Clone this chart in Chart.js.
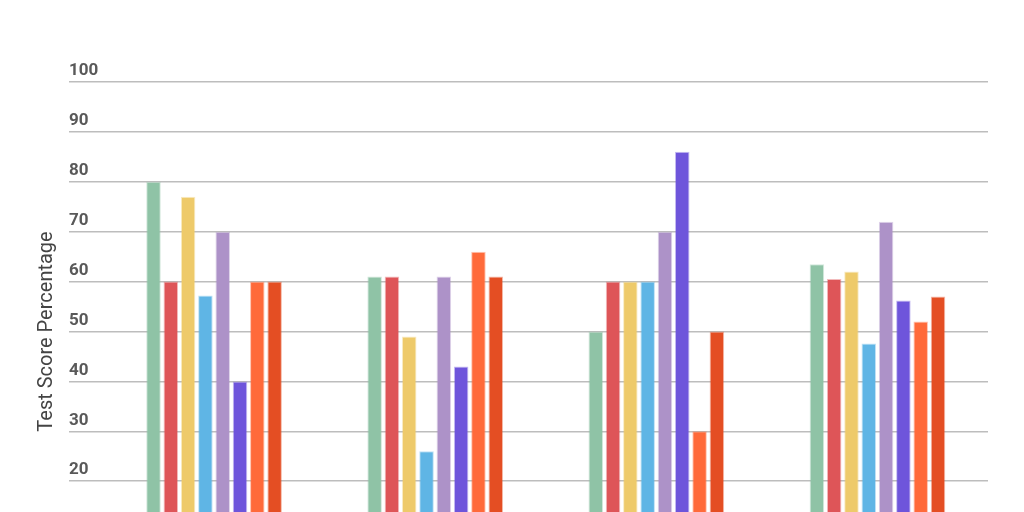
<!DOCTYPE html>
<html>
<head>
<meta charset="utf-8">
<script src="https://cdn.jsdelivr.net/npm/chart.js@4/dist/chart.umd.min.js"></script>
<style>
  html, body { margin: 0; padding: 0; background: #fff; overflow: hidden; }
  #wrap { width: 1024px; height: 623px; }
</style>
</head>
<body>
<div id="wrap"><canvas id="scoreChart"></canvas></div>
<script>
const categories = ['Test 1', 'Test 2', 'Test 3', 'Test 4'];
const yTicks = [0, 10, 20, 30, 40, 50, 60, 70, 80, 90, 100];

const series1 = [80, 61, 50, 63.5];
const series2 = [60, 61, 60, 60.5];
const series3 = [77, 49, 60, 62];
const series4 = [57.2, 26, 60, 47.6];
const series5 = [70, 61, 70, 72];
const series6 = [40, 43, 86, 56.2];
const series7 = [60, 66, 30, 52];
const series8 = [60, 61, 50, 57];

const seriesNames = ['Series 1', 'Series 2', 'Series 3', 'Series 4', 'Series 5', 'Series 6', 'Series 7', 'Series 8'];
const seriesColors = ['#8fc3a6', '#de5558', '#eeca6a', '#5fb5e5', '#ad92c8', '#6e55db', '#ff6a3a', '#e44e23'];
const allSeries = [series1, series2, series3, series4, series5, series6, series7, series8];

new Chart(document.getElementById('scoreChart'), {
    type: 'bar',
    data: {
        labels: categories,
        datasets: allSeries.map((vals, i) => ({
            label: seriesNames[i],
            data: vals,
            backgroundColor: seriesColors[i],
            borderColor: seriesColors[i] + '66',
            borderWidth: 1,
            categoryPercentage: 0.626,
            barPercentage: 0.84
        }))
    },
    options: {
        responsive: true,
        maintainAspectRatio: false,
        animation: false,
        layout: {
            padding: { left: 31, right: 36, top: 82, bottom: 10 }
        },
        plugins: {
            legend: { display: false },
            tooltip: { enabled: false }
        },
        scales: {
            x: {
                grid: { display: false },
                border: { display: false },
                ticks: { color: '#555', font: { family: 'Roboto', size: 15 } }
            },
            y: {
                min: 0,
                max: 100,
                afterBuildTicks: axis => {
                    axis.ticks = yTicks.map(v => ({ value: v }));
                },
                border: { display: false },
                grid: {
                    color: '#bdbdbd',
                    lineWidth: 1.5,
                    drawTicks: true,
                    tickLength: 34.5
                },
                ticks: {
                    // labels sit above each grid line, left aligned where the line starts
                    mirror: true,
                    padding: -34.5,
                    labelOffset: -11,
                    color: '#595959',
                    font: { family: 'Roboto', size: 17, weight: 'bold' }
                },
                title: {
                    display: true,
                    text: 'Test Score Percentage',
                    color: '#444',
                    font: { family: 'Roboto', size: 20 },
                    padding: { top: 4, bottom: 79 }
                }
            }
        }
    }
});
</script>
</body>
</html>
